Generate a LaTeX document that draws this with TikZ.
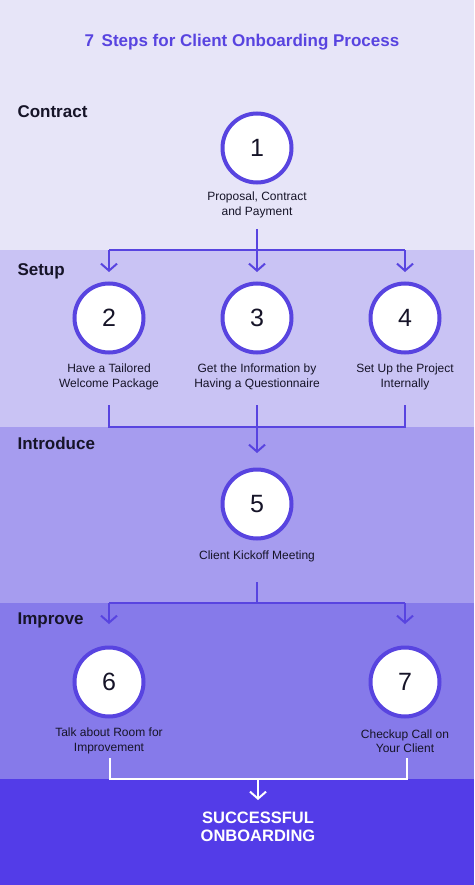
\documentclass[tikz,border=0pt]{standalone}
\usepackage{fontspec}
\setmainfont{Liberation Sans}
\usetikzlibrary{arrows.meta}
\definecolor{bandA}{RGB}{231,229,248}
\definecolor{bandB}{RGB}{201,195,244}
\definecolor{bandC}{RGB}{166,156,239}
\definecolor{bandD}{RGB}{134,122,234}
\definecolor{bandE}{RGB}{83,60,232}
\definecolor{ink}{RGB}{88,68,224}
\definecolor{txt}{RGB}{22,20,40}
\tikzset{
  stepcircle/.style={circle,draw=ink,line width=4pt,fill=white,minimum size=69pt,inner sep=0pt,font=\fontsize{25}{28}\selectfont,text=txt},
  steplabel/.style={align=center,font=\fontsize{12}{14.5}\selectfont,text=txt},
  phase/.style={anchor=west,font=\bfseries\fontsize{17}{19}\selectfont,text=txt},
  conn/.style={draw=ink,line width=2pt},
  wconn/.style={draw=white,line width=2pt},
  tip/.style={-{Straight Barb[length=7pt,width=16pt,line width=2pt]}}
}
\begin{document}
\begin{tikzpicture}[x=1pt,y=-1pt]
\useasboundingbox (0,0) rectangle (474,885);
% bands
\fill[bandA] (0,0) rectangle (474,250);
\fill[bandB] (0,250) rectangle (474,427);
\fill[bandC] (0,427) rectangle (474,603);
\fill[bandD] (0,603) rectangle (474,779);
\fill[bandE] (0,779) rectangle (474,885);
% title
\node[font=\bfseries\fontsize{17}{20}\selectfont,text=ink] (title) at (242,42) {7\, Steps for Client Onboarding Process};
% phase labels
\node[phase] (pc) at (14,112) {Contract};
\node[phase] (ps) at (14,271) {Setup};
\node[phase] (pi) at (14,443) {Introduce};
\node[phase] (pm) at (14,620) {Improve};
% circles
\node[stepcircle] (c1) at (257,148) {1};
\node[stepcircle] (c2) at (109,318) {2};
\node[stepcircle] (c3) at (257,318) {3};
\node[stepcircle] (c4) at (405,318) {4};
\node[stepcircle] (c5) at (257,504) {5};
\node[stepcircle] (c6) at (109,682) {6};
\node[stepcircle] (c7) at (405,682) {7};
% labels
\node[steplabel] (l1) at (257,205) {Proposal, Contract\\and Payment};
\node[steplabel] (l2) at (109,377) {Have a Tailored\\Welcome Package};
\node[steplabel] (l3) at (257,377) {Get the Information by\\Having a Questionnaire};
\node[steplabel] (l4) at (405,377) {Set Up the Project\\Internally};
\node[steplabel] (l5) at (257,556) {Client Kickoff Meeting};
\node[steplabel] (l6) at (109,741) {Talk about Room for\\Improvement};
\node[steplabel] (l7) at (405,741) {Checkup Call on\\Your Client};
\node[align=center,text=white,font=\bfseries\fontsize{16.5}{17.5}\selectfont] (final) at (258,827) {SUCCESSFUL\\ONBOARDING};
% coordinates
\coordinate (s1) at (257,229);
\coordinate (h1l) at (109,250);
\coordinate (h1c) at (257,250);
\coordinate (h1r) at (405,250);
\coordinate (a2) at (109,272);
\coordinate (a3) at (257,272);
\coordinate (a4) at (405,272);
\coordinate (s2) at (109,405);
\coordinate (s3) at (257,405);
\coordinate (s4) at (405,405);
\coordinate (h2l) at (109,427);
\coordinate (h2r) at (405,427);
\coordinate (a5) at (257,453);
\coordinate (s5) at (257,582);
\coordinate (h3l) at (109,603);
\coordinate (h3c) at (257,603);
\coordinate (h3r) at (405,603);
\coordinate (a6) at (109,624);
\coordinate (a7) at (405,624);
\coordinate (s6) at (110,758);
\coordinate (s7) at (407,758);
\coordinate (h4l) at (110,779);
\coordinate (h4c) at (258,779);
\coordinate (h4r) at (407,779);
\coordinate (af) at (258,800);
% connectors
\draw[conn] (s1) -- (h1c);
\draw[conn] (h1l) -- (h1r);
\draw[conn,tip] (h1l) -- (a2);
\draw[conn,tip] (h1c) -- (a3);
\draw[conn,tip] (h1r) -- (a4);
\draw[conn] (s2) -- (h2l) -- (h2r) -- (s4);
\draw[conn,tip] (s3) -- (a5);
\draw[conn] (s5) -- (h3c);
\draw[conn] (h3l) -- (h3r);
\draw[conn,tip] (h3l) -- (a6);
\draw[conn,tip] (h3r) -- (a7);
\draw[wconn] (s6) -- (h4l) -- (h4r) -- (s7);
\draw[wconn,tip] (h4c) -- (af);
\end{tikzpicture}
\end{document}
